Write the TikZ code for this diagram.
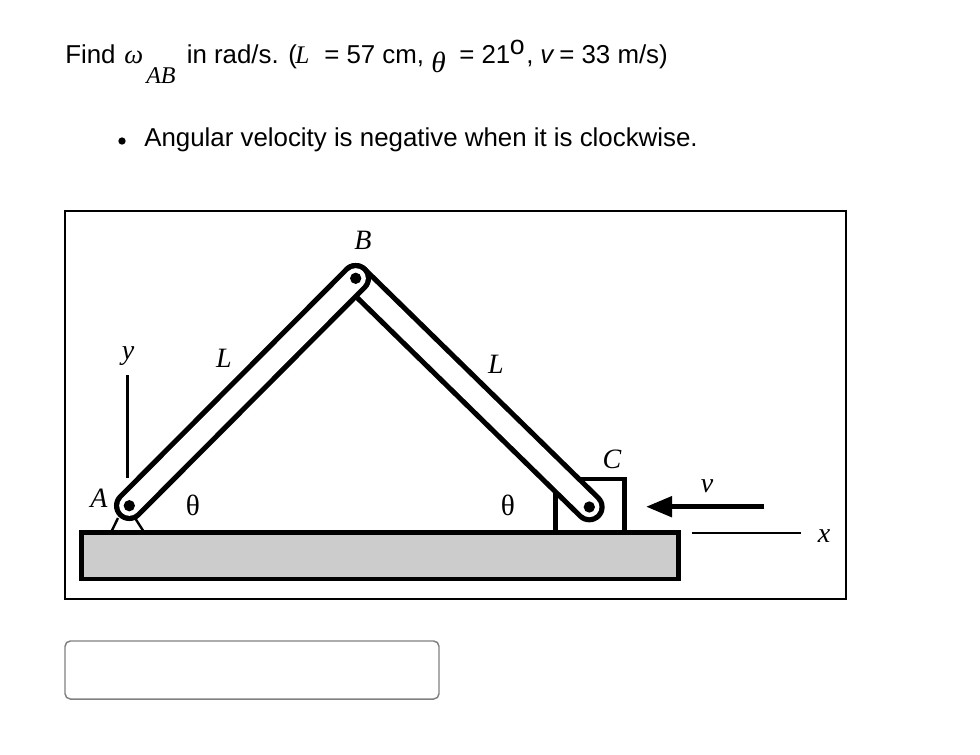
\documentclass[tikz,border=0pt]{standalone}
\usepackage{fontspec}
\setmainfont{Liberation Sans}
\newfontfamily\serifit[Ligatures=TeX]{Liberation Serif}
\usetikzlibrary{arrows.meta}
\begin{document}
\begin{tikzpicture}[x=0.75pt,y=-0.75pt]
        \tikzstyle{head}=[anchor=base west,inner sep=0pt,font=\fontsize{19.4}{22}\selectfont]
        \tikzstyle{mathit}=[anchor=base west,inner sep=0pt,font=\fontsize{19}{22}\serifit\itshape]
        \tikzstyle{lab}=[inner sep=0pt,font=\fontsize{21}{24}\serifit\itshape]
        \tikzstyle{ang}=[inner sep=0pt,font=\fontsize{22}{24}\serifit]
        \tikzstyle{pin}=[circle,fill=black,inner sep=0pt,minimum size=8.5pt]
        \tikzstyle{barout}=[line width=23pt,line cap=round,black]
        \tikzstyle{barin}=[line width=15.2pt,line cap=round,white]
        \tikzstyle{heavy}=[line width=3.6pt]
        \tikzstyle{axis}=[line width=1.8pt]
       \useasboundingbox (0,0) rectangle (980,754);
       \begin{scope}
         % heading
         \node [head] (find) at (65,63.5) {Find};
         \node [mathit,font=\fontsize{20}{22}\serifit\itshape] (om) at (124,63.5) {ω};
         \node [mathit,font=\fontsize{18}{20}\serifit\itshape] (ab) at (146,83) {AB};
         \node [head] (rad) at (186.5,63.5) {in rad/s. (};
         \node [mathit] (el) at (295,63.5) {L};
         \node [head] (eq1) at (324,63.5) {= 57 cm,};
         \node [mathit,font=\fontsize{22}{22}\serifit\itshape] (th) at (431,72) {θ};
         \node [head] (eq2) at (459,63.5) {= 21};
         \node [head,font=\fontsize{20}{22}\selectfont] (deg) at (509.5,54) {o};
         \node [head] (com) at (526,63.5) {,};
         \node [head,font=\fontsize{19.4}{22}\selectfont\itshape] (vee) at (540,63.5) {v};
         \node [head] (eq3) at (559,63.5) {= 33 m/s)};
         \node [circle,fill=black,inner sep=0pt,minimum size=5.5pt] (dot) at (122,141) {};
         \node [head] (note) at (144,146.5) {Angular velocity is negative when it is clockwise.};

         % frame
         \draw [line width=1.9pt] (65,211) rectangle (846,599);

         % support at A
         \coordinate (s1) at (118,518);
         \coordinate (s2) at (111.7,531);
         \coordinate (s3) at (135,518);
         \coordinate (s4) at (143.3,531);
         \draw [axis] (s1) -- (s2);
         \draw [axis] (s3) -- (s4);

         % slider and ground
         \draw [heavy,fill=white] (555.5,532.5) -- (555.5,479) -- (624.3,479) -- (624.3,532.5);
         \draw [heavy,fill=black!20] (81.7,532.5) rectangle (678.5,579);

         \coordinate (a) at (129.3,505.7);
         \coordinate (b) at (355.7,278.3);
         \coordinate (c) at (589.3,507);

         \draw [barout] (b) -- (c);
         \draw [barin] (b) -- (c);
         \draw [barout] (a) -- (b);
         \draw [barin] (a) -- (b);
         \node [pin] (pa) at (a) {};
         \node [pin] (pb) at (b) {};
         \node [pin] (pc) at (c) {};

         % axes and velocity
         \coordinate (y1) at (127.3,375);
         \coordinate (y2) at (127.3,478);
         \coordinate (x1) at (691.7,532.7);
         \coordinate (x2) at (801,532.7);
         \coordinate (v1) at (764.3,506.7);
         \coordinate (v2) at (646,506.7);
         \draw [axis] (y1) -- (y2);
         \draw [axis] (x1) -- (x2);
         \draw [-{Triangle[length=19.5pt,width=15pt]},line width=3.7pt] (v1) -- (v2);

         % labels
         \node [lab] (ly) at (128,356) {y};
         \node [lab] (ll) at (224,358) {L};
         \node [lab] (lr) at (496,364) {L};
         \node [lab] (lb) at (363,240) {B};
         \node [lab] (la) at (99,498) {A};
         \node [lab] (lc) at (612,459) {C};
         \node [lab] (lv) at (707,486) {v};
         \node [lab] (lx) at (824,536) {x};
         \node [ang] (t1) at (193,505) {θ};
         \node [ang] (t2) at (508,505) {θ};

         % answer box
         \draw [line width=1.1pt,draw=black!50,rounded corners=4pt] (65,641) rectangle (439,699);
        \end{scope}
      \end{tikzpicture}
\end{document}
